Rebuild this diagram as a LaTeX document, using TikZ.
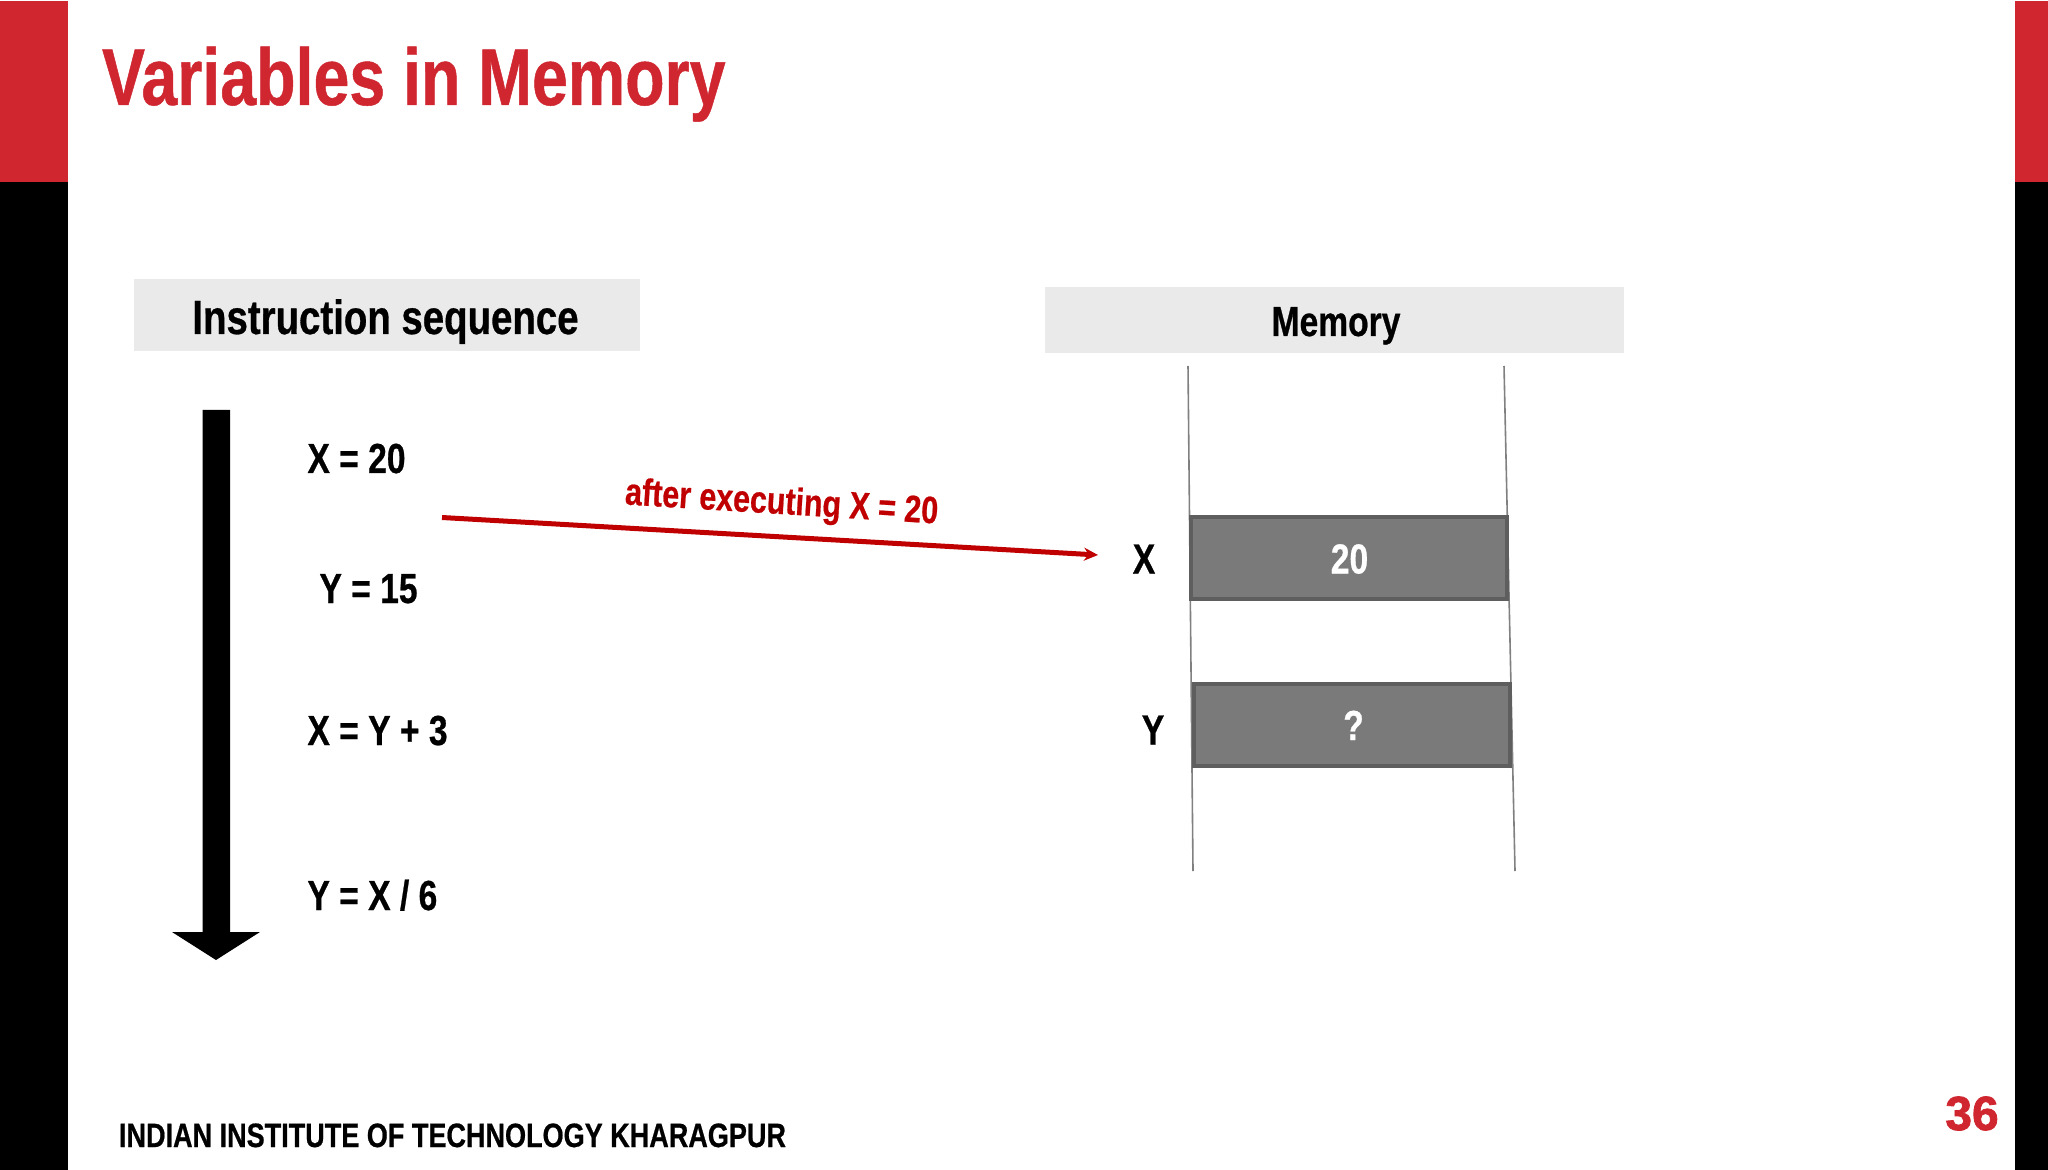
\documentclass[tikz,border=0pt]{standalone}
\usepackage{fontspec}
\usetikzlibrary{arrows.meta}
\setmainfont{Liberation Sans}
\newfontfamily\narrowfont[FakeStretch=0.8,BoldFeatures={FakeBold=0.6}]{Liberation Sans}
\newfontfamily\pagefont[BoldFeatures={FakeBold=1.6}]{Liberation Sans}
\definecolor{titlered}{HTML}{D02630}
\definecolor{arrowred}{HTML}{C00000}
\definecolor{headgray}{HTML}{EAEAEA}
\definecolor{cellgray}{HTML}{7A7A7A}
\definecolor{celledge}{HTML}{5E5E5E}
\definecolor{railgray}{HTML}{808080}
\newcommand{\fsz}[1]{\fontsize{#1}{#1}\selectfont\narrowfont\bfseries}
\tikzset{
  txt/.style={inner sep=0pt,outer sep=0pt,anchor=base west},
  ctxt/.style={inner sep=0pt,outer sep=0pt,anchor=base},
  instr/.style={txt,font=\fsz{21}},
  headbox/.style={fill=headgray,draw=none,inner sep=0pt,outer sep=0pt,anchor=north west},
  cell/.style={fill=cellgray,draw=celledge,line width=2.4pt,inner sep=0pt,outer sep=0pt,anchor=north west,minimum width=158pt,minimum height=41pt},
  rail/.style={draw=railgray,line width=0.8pt},
  memlabel/.style={ctxt,font=\fsz{21}},
  celltext/.style={ctxt,text=white,font=\fsz{21}},
}
\begin{document}
\begin{tikzpicture}[x=0.5pt,y=-0.5pt]
\useasboundingbox (0,0) rectangle (2048,1170);
\fill[white] (0,0) rectangle (2048,1170);
% side bars
\fill[black] (0,182) rectangle (68,1170);
\fill[titlered] (0,1) rectangle (68,182);
\fill[black] (2015,182) rectangle (2048,1170);
\fill[titlered] (2015,1) rectangle (2048,182);
% title
\node[txt,text=titlered,font=\fsz{40.3}] (title) at (102,105) {Variables in Memory};
% headers
\node[headbox,minimum width=253pt,minimum height=36pt] (instrbox) at (134,279) {};
\node[ctxt,font=\fsz{24}] (instrhead) at (385.5,334) {Instruction sequence};
\node[headbox,minimum width=289.5pt,minimum height=33pt] (membox) at (1045,287.5) {};
\node[ctxt,font=\fsz{21}] (memhead) at (1336,336) {Memory};
% block arrow
\fill[black] (202.5,410) -- (230,410) -- (230,932) -- (260,932) -- (216,960) -- (172,932) -- (202.5,932) -- cycle;
% instructions
\node[instr] (i1) at (307.5,473) {X = 20};
\node[instr] (i2) at (319.5,603) {Y = 15};
\node[instr] (i3) at (307.5,745) {X = Y + 3};
\node[instr] (i4) at (307.5,910) {Y = X / 6};
% rails
\coordinate (lt) at (1188,366);
\coordinate (lb) at (1193,871);
\coordinate (rt) at (1504,366);
\coordinate (rb) at (1515,871);
\draw[rail] (lt) -- (lb);
\draw[rail] (rt) -- (rb);
% cells
\node[cell] (cx) at (1191,517) {};
\node[cell] (cy) at (1194,684) {};
\node[celltext] (vx) at (1349.5,573.5) {20};
\node[celltext] (vy) at (1353.5,740) {?};
\node[memlabel] (lx) at (1144,573.5) {X};
\node[memlabel] (ly) at (1153,744.5) {Y};
% red arrow
\coordinate (as) at (442,517.5);
\coordinate (ae) at (1098,555);
\draw[arrowred,line width=2.5pt,-{Stealth[length=7pt,width=6.5pt]}] (as) -- (ae);
\node[ctxt,text=arrowred,font=\fsz{19},rotate=-3.5] (alabel) at (781,514) {after executing X = 20};
% footer
\node[txt,font=\fsz{16.9}] (foot) at (119,1147) {INDIAN INSTITUTE OF TECHNOLOGY KHARAGPUR};
\node[ctxt,text=titlered,font=\fontsize{24}{24}\selectfont\pagefont\bfseries] (page) at (1972,1130) {36};
\end{tikzpicture}
\end{document}
